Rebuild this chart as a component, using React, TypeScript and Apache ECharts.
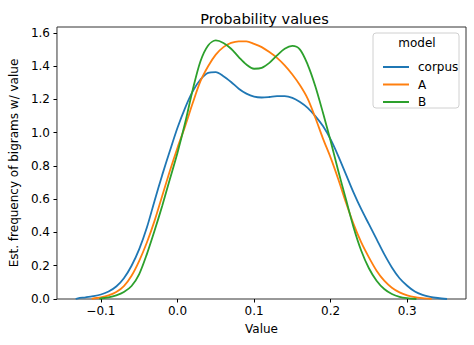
import React, { useEffect, useRef } from "react";
import * as echarts from "echarts";

const seriesNames = ["corpus", "A", "B"];
const seriesColors = ["#1f77b4", "#ff7f0e", "#2ca02c"];

const corpus: [number, number][] = [
  [-0.133, 0.0], [-0.13, 0.004], [-0.12, 0.01], [-0.11, 0.017], [-0.1, 0.027],
  [-0.09, 0.045], [-0.08, 0.075], [-0.07, 0.125], [-0.06, 0.2], [-0.05, 0.3],
  [-0.04, 0.43], [-0.03, 0.59], [-0.02, 0.745], [-0.01, 0.89], [0.0, 1.03],
  [0.01, 1.15], [0.02, 1.25], [0.03, 1.32], [0.04, 1.36], [0.05, 1.365],
  [0.06, 1.34], [0.07, 1.305], [0.08, 1.265], [0.09, 1.235], [0.1, 1.217],
  [0.11, 1.212], [0.12, 1.215], [0.13, 1.22], [0.14, 1.22], [0.15, 1.21],
  [0.16, 1.185], [0.17, 1.15], [0.18, 1.1], [0.19, 1.04], [0.2, 0.96],
  [0.21, 0.86], [0.22, 0.75], [0.23, 0.64], [0.24, 0.54], [0.25, 0.45],
  [0.26, 0.36], [0.27, 0.27], [0.28, 0.19], [0.29, 0.125], [0.3, 0.08],
  [0.31, 0.045], [0.32, 0.025], [0.33, 0.013], [0.34, 0.006], [0.352, 0.0],
];

const modelA: [number, number][] = [
  [-0.112, 0.0], [-0.11, 0.003], [-0.1, 0.01], [-0.09, 0.022], [-0.08, 0.042],
  [-0.07, 0.078], [-0.06, 0.14], [-0.05, 0.23], [-0.04, 0.34], [-0.03, 0.47],
  [-0.02, 0.62], [-0.01, 0.77], [0.0, 0.91], [0.01, 1.04], [0.02, 1.18],
  [0.03, 1.31], [0.04, 1.4], [0.05, 1.47], [0.06, 1.515], [0.07, 1.54],
  [0.08, 1.55], [0.09, 1.55], [0.1, 1.535], [0.11, 1.515], [0.12, 1.485],
  [0.13, 1.45], [0.14, 1.405], [0.15, 1.35], [0.16, 1.285], [0.17, 1.205],
  [0.18, 1.09], [0.19, 0.965], [0.2, 0.85], [0.21, 0.72], [0.22, 0.58],
  [0.23, 0.45], [0.24, 0.34], [0.25, 0.25], [0.26, 0.17], [0.27, 0.11],
  [0.28, 0.068], [0.29, 0.04], [0.3, 0.022], [0.31, 0.011], [0.32, 0.005],
  [0.332, 0.0],
];

const modelB: [number, number][] = [
  [-0.102, 0.0], [-0.1, 0.003], [-0.09, 0.01], [-0.08, 0.022], [-0.07, 0.042],
  [-0.06, 0.078], [-0.05, 0.15], [-0.04, 0.27], [-0.03, 0.41], [-0.02, 0.56],
  [-0.01, 0.72], [0.0, 0.88], [0.01, 1.06], [0.02, 1.26], [0.03, 1.43],
  [0.04, 1.525], [0.05, 1.555], [0.06, 1.54], [0.07, 1.505], [0.08, 1.455],
  [0.09, 1.41], [0.1, 1.385], [0.11, 1.39], [0.12, 1.42], [0.13, 1.465],
  [0.14, 1.505], [0.15, 1.522], [0.16, 1.5], [0.17, 1.41], [0.18, 1.28],
  [0.19, 1.12], [0.2, 0.95], [0.21, 0.77], [0.22, 0.6], [0.23, 0.43],
  [0.24, 0.29], [0.25, 0.185], [0.26, 0.11], [0.27, 0.06], [0.28, 0.03],
  [0.29, 0.013], [0.3, 0.005], [0.312, 0.0],
];

const xTicks = [-0.1, 0.0, 0.1, 0.2, 0.3];
const yTicks = [0.0, 0.2, 0.4, 0.6, 0.8, 1.0, 1.2, 1.4, 1.6];

const titleText = "Probability values";
const xName = "Value";
const yName = "Est. frequency of bigrams w/ value";
const legendTitle = "model";

const FONT = "DejaVu Sans";

export default function App() {
  const ref = useRef<HTMLDivElement>(null);
  useEffect(() => {
    if (!ref.current) return;
    const chart = echarts.init(ref.current, undefined, { renderer: "svg" });
    const allData = [corpus, modelA, modelB];
    chart.setOption({
      animation: false,
      backgroundColor: "#ffffff",
      textStyle: { fontFamily: FONT },
      title: {
        text: titleText,
        left: 259.5,
        top: 6,
        textAlign: "center",
        textStyle: { fontFamily: FONT, fontSize: 14.5, fontWeight: "normal", color: "#000" },
      },
      grid: {
        left: 53,
        right: 8,
        top: 27,
        bottom: 46,
        show: true,
        borderColor: "#333",
        borderWidth: 1,
        backgroundColor: "transparent",
      },
      legend: {
        data: seriesNames,
        orient: "vertical",
        left: 378,
        top: 55,
        icon: "rect",
        itemWidth: 26,
        itemHeight: 2,
        itemGap: 3.5,
        selectedMode: false,
        z: 5,
        textStyle: { fontFamily: FONT, fontSize: 12, color: "#000", lineHeight: 14, padding: [0, 0, 0, 4] },
      },
      graphic: [
        {
          type: "rect",
          z: 4,
          shape: { x: 373, y: 33, width: 86, height: 75, r: 3 },
          style: { fill: "rgba(255,255,255,0.8)", stroke: "#d0d0d0", lineWidth: 1 },
        },
        {
          type: "text",
          z: 5,
          x: 417,
          y: 43,
          style: {
            text: legendTitle,
            fontFamily: FONT,
            fontSize: 12,
            fill: "#000",
            align: "center",
            verticalAlign: "middle",
          },
        },
      ],
      xAxis: {
        type: "value",
        min: -0.1574,
        max: 0.3768,
        name: xName,
        nameLocation: "middle",
        nameGap: 24,
        nameTextStyle: { fontFamily: FONT, fontSize: 12, color: "#000", verticalAlign: "top" },
        axisLine: { show: false, onZero: false },
        splitLine: { show: false },
        axisTick: {
          show: true,
          inside: false,
          length: 3.5,
          lineStyle: { color: "#000", width: 1 },
          customValues: xTicks,
        },
        axisLabel: {
          customValues: xTicks,
          margin: 6,
          fontFamily: FONT,
          fontSize: 12,
          color: "#000",
          formatter: (v: number) => {
            const s = Math.abs(v) < 1e-9 ? "0.0" : v.toFixed(1);
            return s.replace("-", "\u2212");
          },
        },
      },
      yAxis: {
        type: "value",
        min: 0,
        max: 1.636,
        name: yName,
        nameLocation: "middle",
        nameGap: 33,
        nameTextStyle: { fontFamily: FONT, fontSize: 12, color: "#000" },
        axisLine: { show: false, onZero: false },
        splitLine: { show: false },
        axisTick: {
          show: true,
          inside: false,
          length: 3.5,
          lineStyle: { color: "#000", width: 1 },
          customValues: yTicks,
        },
        axisLabel: {
          customValues: yTicks,
          margin: 7,
          fontFamily: FONT,
          fontSize: 12,
          color: "#000",
          formatter: (v: number) => v.toFixed(1),
        },
      },
      series: seriesNames.map((name, i) => ({
        name,
        type: "line",
        data: allData[i],
        smooth: 0.3,
        showSymbol: false,
        symbol: "none",
        color: seriesColors[i],
        lineStyle: { color: seriesColors[i], width: 1.8 },
        z: 2,
      })),
    });
    return () => chart.dispose();
  }, []);
  return (
    <div
      ref={ref}
      style={{ position: "fixed", left: 0, top: 0, width: 474, height: 345 }}
    />
  );
}
